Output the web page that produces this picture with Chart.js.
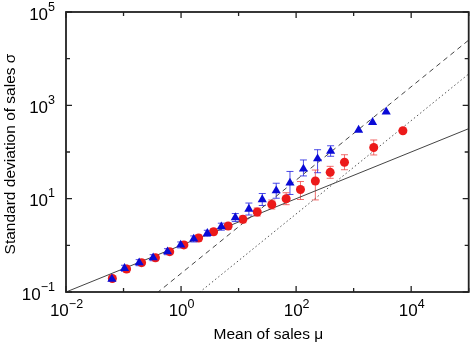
<!DOCTYPE html>
<html>
<head>
<meta charset="utf-8">
<script src="https://cdn.jsdelivr.net/npm/chart.js@4.4.1/dist/chart.umd.min.js"></script>
<style>
  html, body { margin: 0; padding: 0; background: #fff; }
  #chart { display: block; }
</style>
</head>
<body>
<canvas id="chart" width="474" height="347"></canvas>
<script>
// blue triangles
const blueMu = [0.0628, 0.104, 0.187, 0.327, 0.581, 0.986, 1.66, 2.86, 5.01, 8.77, 15.1, 25.8, 45.1, 78.2, 134, 236, 398, 1219, 2133, 3681];
const blueSigma = [0.190, 0.322, 0.425, 0.543, 0.731, 1.02, 1.37, 1.81, 2.51, 3.94, 6.0, 9.6, 14.8, 21.7, 43.3, 71.8, 104, 296, 434, 726];
const blueLo = [0.172, 0.278, 0.366, 0.468, 0.63, 0.88, 1.18, 1.56, 2.11, 3.23, 4.46, 7.14, 10.2, 12.3, 30.7, 36, 81, null, null, null];
const blueHi = [0.21, 0.374, 0.493, 0.63, 0.848, 1.18, 1.59, 2.10, 2.98, 4.80, 8.06, 12.9, 21.4, 38.3, 67.5, 112, 136, null, null, null];

// red circles
const redMu = [0.064, 0.113, 0.206, 0.359, 0.635, 1.12, 2.02, 3.68, 6.58, 11.9, 21.1, 37.8, 67.1, 119, 216, 391, 693, 2234, 7180];
const redSigma = [0.195, 0.311, 0.425, 0.543, 0.731, 1.02, 1.44, 1.96, 2.59, 3.61, 5.18, 7.50, 9.98, 15.7, 23.9, 36.7, 60.4, 125, 286];
const redLo = [0.177, 0.268, 0.366, 0.468, 0.63, 0.88, 1.24, 1.69, 2.23, 3.04, 4.25, 6.01, 7.43, 9.6, 9.4, 27.3, 41.7, 86.4, null];
const redHi = [0.215, 0.361, 0.493, 0.63, 0.848, 1.18, 1.67, 2.27, 3.0, 4.29, 6.31, 9.36, 13.4, 23.3, 41.1, 49.3, 87.4, 181, null];

// reference lines sigma = coef * mu^slope (solid, dashed, dotted)
const lineMu = [0.01, 100000];
const lineCoef = [1, 0.25, 0.047];
const lineSlope = [0.5, 1, 1];

// axis tick labels (powers of ten)
const xTickExps = [-2, 0, 2, 4];
const yTickExps = [-1, 1, 3, 5];
const xDecades = [-2, -1, 0, 1, 2, 3, 4, 5];
const yDecades = [-1, 0, 1, 2, 3, 4, 5];

function toPoints(xs, ys) {
  return xs.map((v, i) => ({ x: v, y: ys[i] }));
}

function refLine(k) {
  return lineMu.map(m => ({ x: m, y: lineCoef[k] * Math.pow(m, lineSlope[k]) }));
}

const errorBars = {
  id: 'errorBars',
  beforeDatasetsDraw(chart) {
    const ctx = chart.ctx;
    const x = chart.scales.x, y = chart.scales.y;
    const a = chart.chartArea;
    const sets = [
      { mu: blueMu, lo: blueLo, hi: blueHi, color: 'rgba(30,30,225,0.8)' },
      { mu: redMu, lo: redLo, hi: redHi, color: 'rgba(238,60,60,0.75)' }
    ];
    ctx.save();
    ctx.beginPath();
    ctx.rect(a.left, a.top, a.right - a.left, a.bottom - a.top);
    ctx.clip();
    ctx.lineWidth = 1;
    sets.forEach(s => {
      ctx.strokeStyle = s.color;
      s.mu.forEach((m, i) => {
        if (s.lo[i] == null) return;
        const px = x.getPixelForValue(m);
        const y1 = y.getPixelForValue(s.hi[i]);
        const y2 = y.getPixelForValue(s.lo[i]);
        ctx.beginPath();
        ctx.moveTo(px, y1); ctx.lineTo(px, y2);
        ctx.moveTo(px - 3.5, y1); ctx.lineTo(px + 3.5, y1);
        ctx.moveTo(px - 3.5, y2); ctx.lineTo(px + 3.5, y2);
        ctx.stroke();
      });
    });
    ctx.restore();
  }
};

const frameAndLabels = {
  id: 'frameAndLabels',
  afterDraw(chart) {
    const ctx = chart.ctx;
    const a = chart.chartArea;
    const x = chart.scales.x, y = chart.scales.y;
    ctx.save();
    ctx.strokeStyle = '#222';
    ctx.lineWidth = 1.8;
    ctx.strokeRect(a.left, a.top, a.right - a.left, a.bottom - a.top);

    ctx.lineWidth = 1.3;
    ctx.beginPath();
    xDecades.forEach(e => {
      const px = x.getPixelForValue(Math.pow(10, e));
      const len = xTickExps.includes(e) ? 6 : 4;
      ctx.moveTo(px, a.bottom); ctx.lineTo(px, a.bottom - len);
      ctx.moveTo(px, a.top); ctx.lineTo(px, a.top + len);
    });
    yDecades.forEach(e => {
      const py = y.getPixelForValue(Math.pow(10, e));
      const len = yTickExps.includes(e) ? 6 : 4;
      ctx.moveTo(a.left, py); ctx.lineTo(a.left + len, py);
      ctx.moveTo(a.right, py); ctx.lineTo(a.right - len, py);
    });
    ctx.stroke();

    const big = '17px "Liberation Sans", Arial, sans-serif';
    const small = '12.5px "Liberation Sans", Arial, sans-serif';
    ctx.fillStyle = '#000';
    ctx.textBaseline = 'alphabetic';
    ctx.textAlign = 'left';

    xTickExps.forEach(e => {
      const px = x.getPixelForValue(Math.pow(10, e));
      const exp = String(e).replace('-', '\u2212');
      ctx.font = big;
      const w1 = ctx.measureText('10').width;
      ctx.font = small;
      const w2 = ctx.measureText(exp).width;
      const left = px - (w1 + w2) / 2 + 0.5;
      ctx.font = big;
      ctx.fillText('10', left, 316);
      ctx.font = small;
      ctx.fillText(exp, left + w1, 307.5);
    });

    yTickExps.forEach(e => {
      const py = y.getPixelForValue(Math.pow(10, e));
      const exp = String(e).replace('-', '\u2212');
      ctx.font = small;
      const w2 = ctx.measureText(exp).width;
      ctx.font = big;
      const w1 = ctx.measureText('10').width;
      const right = 55;
      ctx.fillText('10', right - w2 - w1, py + 7.5);
      ctx.font = small;
      ctx.fillText(exp, right - w2, py - 1.5);
    });

    ctx.font = '15.5px "Liberation Sans", Arial, sans-serif';
    ctx.textAlign = 'center';
    ctx.fillText('Mean of sales \u03bc', (a.left + a.right) / 2 + 1, 339);
    ctx.translate(15, (a.top + a.bottom) / 2 + 2);
    ctx.rotate(-Math.PI / 2);
    ctx.fillText('Standard deviation of sales \u03c3', 0, 0);
    ctx.restore();
  }
};

new Chart(document.getElementById('chart'), {
  type: 'scatter',
  data: {
    datasets: [
      {
        label: 'blue',
        data: toPoints(blueMu, blueSigma),
        pointStyle: 'triangle',
        pointRadius: 5.3,
        backgroundColor: '#0a0ad6',
        borderColor: '#0a0ad6',
        borderWidth: 0
      },
      {
        label: 'red',
        data: toPoints(redMu, redSigma),
        pointStyle: 'circle',
        pointRadius: 4.5,
        backgroundColor: '#ec1a1a',
        borderColor: '#ec1a1a',
        borderWidth: 0
      },
      {
        type: 'line',
        data: refLine(0),
        borderColor: '#444',
        borderWidth: 1,
        pointRadius: 0,
        fill: false
      },
      {
        type: 'line',
        data: refLine(1),
        borderColor: '#444',
        borderWidth: 1,
        borderDash: [5, 4],
        pointRadius: 0,
        fill: false
      },
      {
        type: 'line',
        data: refLine(2),
        borderColor: '#555',
        borderWidth: 1,
        borderDash: [1.5, 2.5],
        pointRadius: 0,
        fill: false
      }
    ]
  },
  options: {
    responsive: false,
    animation: false,
    layout: { padding: { left: 66, right: 5, top: 12, bottom: 55 } },
    plugins: { legend: { display: false }, tooltip: { enabled: false } },
    scales: {
      x: {
        type: 'logarithmic',
        min: 0.01,
        max: 100000,
        grid: { display: false, drawTicks: false },
        border: { display: false },
        ticks: { display: false }
      },
      y: {
        type: 'logarithmic',
        min: 0.1,
        max: 100000,
        grid: { display: false, drawTicks: false },
        border: { display: false },
        ticks: { display: false }
      }
    }
  },
  plugins: [errorBars, frameAndLabels]
});
</script>
</body>
</html>
